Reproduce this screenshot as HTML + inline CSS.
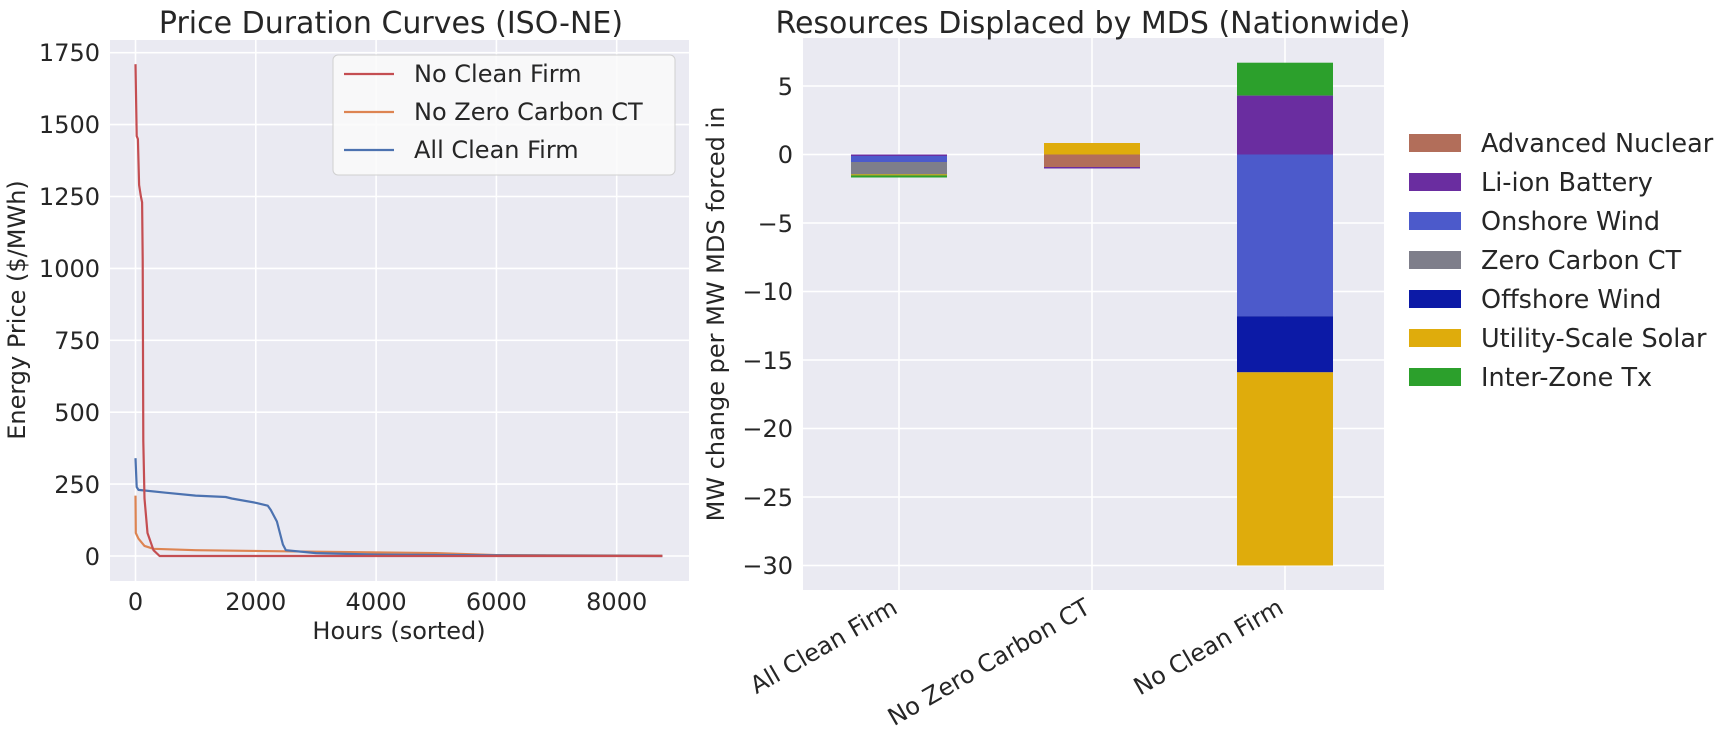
<!DOCTYPE html>
<html><head><meta charset="utf-8"><style>
html,body{margin:0;padding:0;background:#fff;}
svg{display:block;font-family:"DejaVu Sans","Liberation Sans",sans-serif;}
</style></head><body>
<svg width="1725" height="732" viewBox="0 0 1725 732" xmlns="http://www.w3.org/2000/svg">
<rect width="1725" height="732" fill="#fff"/>
<!-- LEFT AXES -->
<rect x="110" y="40" width="579" height="541" fill="#eaeaf2"/>
<g stroke="#fff" stroke-width="1.6">
<line x1="135.5" y1="40" x2="135.5" y2="581"/><line x1="255.8" y1="40" x2="255.8" y2="581"/>
<line x1="376.1" y1="40" x2="376.1" y2="581"/><line x1="496.4" y1="40" x2="496.4" y2="581"/>
<line x1="616.7" y1="40" x2="616.7" y2="581"/>
<line x1="110" y1="556" x2="689" y2="556"/><line x1="110" y1="484.1" x2="689" y2="484.1"/>
<line x1="110" y1="412.2" x2="689" y2="412.2"/><line x1="110" y1="340.3" x2="689" y2="340.3"/>
<line x1="110" y1="268.4" x2="689" y2="268.4"/><line x1="110" y1="196.5" x2="689" y2="196.5"/>
<line x1="110" y1="124.6" x2="689" y2="124.6"/><line x1="110" y1="52.7" x2="689" y2="52.7"/>
</g>
<g font-size="24" fill="#262626" text-anchor="end">
<text x="100" y="565">0</text><text x="100" y="493">250</text><text x="100" y="421">500</text>
<text x="100" y="349">750</text><text x="100" y="277">1000</text><text x="100" y="205">1250</text>
<text x="100" y="133">1500</text><text x="100" y="61">1750</text>
</g>
<g font-size="24" fill="#262626" text-anchor="middle">
<text x="135.5" y="610">0</text><text x="255.8" y="610">2000</text><text x="376.1" y="610">4000</text>
<text x="496.4" y="610">6000</text><text x="616.7" y="610">8000</text>
<text x="399" y="639">Hours (sorted)</text>
<text x="391" y="33" font-size="30">Price Duration Curves (ISO-NE)</text>
</g>
<text transform="translate(25,310) rotate(-90)" font-size="24" fill="#262626" text-anchor="middle">Energy Price ($/MWh)</text>
<g fill="none" stroke-width="2.2" stroke-linejoin="round">
<polyline stroke="#dd8452" points="135.5,495.6 135.8,533 138.5,538.7 144.5,545.9 153.5,548.8 195.6,550.2 316,551.7 436,553.1 496.4,555.1 662.4,555.7"/>
<polyline stroke="#4c72b0" points="135.5,458.2 136.7,487 138.5,489.9 165.6,492.7 195.6,495.6 225.7,497 231.7,498.5 255.8,502.8 267.8,505.7 270.8,510 276.9,521.5 282.9,544.5 285.9,550.2 316,553.1 376.1,554.6 496.4,555.4 662.4,556"/>
<polyline stroke="#c44e52" points="135.5,64.2 136.7,136.1 137.9,139 139.1,185 140.9,196.5 142.1,202.3 142.7,259.8 143.3,441 144.5,498.5 147.5,533 153.5,550.2 159.6,556 662.4,556"/>
</g>
<rect x="333" y="55" width="342" height="120" rx="5" fill="#fafafa" fill-opacity="0.85" stroke="#d0d0d0"/>
<g stroke-width="2.2">
<line x1="344" y1="74" x2="394" y2="74" stroke="#c44e52"/>
<line x1="344" y1="112" x2="394" y2="112" stroke="#dd8452"/>
<line x1="344" y1="150" x2="394" y2="150" stroke="#4c72b0"/>
</g>
<g font-size="24" fill="#262626">
<text x="414" y="82">No Clean Firm</text><text x="414" y="120">No Zero Carbon CT</text><text x="414" y="158">All Clean Firm</text>
</g>
<!-- RIGHT AXES -->
<rect x="803" y="38" width="581" height="552" fill="#eaeaf2"/>
<g stroke="#fff" stroke-width="1.6">
<line x1="899" y1="38" x2="899" y2="590"/><line x1="1092" y1="38" x2="1092" y2="590"/><line x1="1285" y1="38" x2="1285" y2="590"/>
<line x1="803" y1="86" x2="1384" y2="86"/><line x1="803" y1="154.5" x2="1384" y2="154.5"/>
<line x1="803" y1="223" x2="1384" y2="223"/><line x1="803" y1="291.5" x2="1384" y2="291.5"/>
<line x1="803" y1="360" x2="1384" y2="360"/><line x1="803" y1="428.5" x2="1384" y2="428.5"/>
<line x1="803" y1="497" x2="1384" y2="497"/><line x1="803" y1="565.5" x2="1384" y2="565.5"/>
</g>
<g font-size="24" fill="#262626" text-anchor="end">
<text x="793" y="95">5</text><text x="793" y="163">0</text><text x="793" y="232">−5</text>
<text x="793" y="300">−10</text><text x="793" y="369">−15</text><text x="793" y="437">−20</text>
<text x="793" y="506">−25</text><text x="793" y="574">−30</text>
</g>
<text transform="translate(724,314) rotate(-90)" font-size="24" fill="#262626" text-anchor="middle">MW change per MW MDS forced in</text>
<text x="1093" y="33" font-size="30" fill="#262626" text-anchor="middle">Resources Displaced by MDS (Nationwide)</text>
<!-- bars -->
<rect x="851" y="154.5" width="96" height="1.5" fill="#6a2da0"/>
<rect x="851" y="156" width="96" height="6" fill="#4c5acb"/>
<rect x="851" y="162" width="96" height="12" fill="#7e7e8a"/>
<rect x="851" y="174" width="96" height="1.5" fill="#b5a530"/>
<rect x="851" y="175.5" width="96" height="2" fill="#2ca02c"/>
<rect x="1044" y="143" width="96" height="11.5" fill="#dfac0c"/>
<rect x="1044" y="154.5" width="96" height="12.5" fill="#b26e5a"/>
<rect x="1044" y="167" width="96" height="1.5" fill="#6a2da0"/>
<rect x="1237" y="62.7" width="96" height="32.9" fill="#2ca02c"/>
<rect x="1237" y="95.6" width="96" height="58.9" fill="#6a2da0"/>
<rect x="1237" y="154.5" width="96" height="161.7" fill="#4c5acb"/>
<rect x="1237" y="316.2" width="96" height="56.1" fill="#0c1aa6"/>
<rect x="1237" y="372.3" width="96" height="193.2" fill="#dfac0c"/>
<g font-size="24" fill="#262626" text-anchor="end">
<text transform="translate(899,612) rotate(-30)">All Clean Firm</text>
<text transform="translate(1092,612) rotate(-30)">No Zero Carbon CT</text>
<text transform="translate(1285,612) rotate(-30)">No Clean Firm</text>
</g>
<!-- right legend -->
<g>
<rect x="1409" y="134" width="52" height="18" fill="#b26e5a"/>
<rect x="1409" y="173" width="52" height="18" fill="#6a2da0"/>
<rect x="1409" y="212" width="52" height="18" fill="#4c5acb"/>
<rect x="1409" y="251" width="52" height="18" fill="#7e7e8a"/>
<rect x="1409" y="290" width="52" height="18" fill="#0c1aa6"/>
<rect x="1409" y="329" width="52" height="18" fill="#dfac0c"/>
<rect x="1409" y="368" width="52" height="18" fill="#2ca02c"/>
</g>
<g font-size="25.5" fill="#262626">
<text x="1481" y="152">Advanced Nuclear</text><text x="1481" y="191">Li-ion Battery</text>
<text x="1481" y="230">Onshore Wind</text><text x="1481" y="269">Zero Carbon CT</text>
<text x="1481" y="308">Offshore Wind</text><text x="1481" y="347">Utility-Scale Solar</text>
<text x="1481" y="386">Inter-Zone Tx</text>
</g>
</svg>
</body></html>
